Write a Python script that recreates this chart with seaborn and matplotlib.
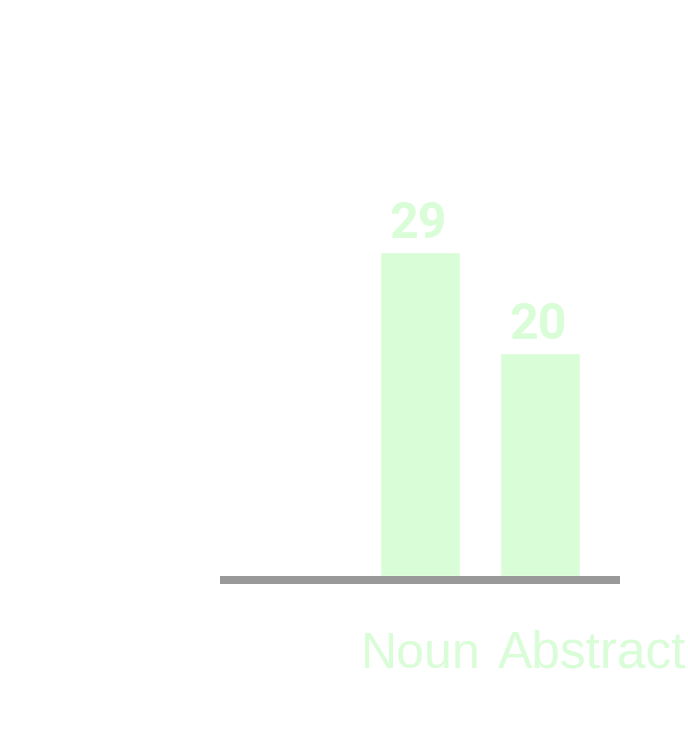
import matplotlib
matplotlib.use('Agg')

import matplotlib.pyplot as plt
import pandas as pd
import seaborn as sns

sns.set_style("white")

# data

categories = ["Noun", "Abstract"]
counts = [29, 20]

bar_color = "#d9fdd7"
line_color = "#999999"

df = pd.DataFrame({"category": categories, "count": counts})

# figure: 688x756 px

fig = plt.figure(figsize=(6.88, 7.56), dpi=100)
ax = fig.add_axes([220 / 688, 180 / 756, 400 / 688, 444 / 756])

sns.barplot(data=df, x="category", y="count", color=bar_color,
            width=2 / 3, saturation=1, ax=ax)

ax.set_xlim(-5 / 3, 5 / 3)
ax.set_ylim(0, 39.8)
ax.set_xlabel("")
ax.set_ylabel("")
ax.set_xticks([])
ax.set_yticks([])

for side in ["top", "left", "right"]:
    ax.spines[side].set_visible(False)
ax.spines["bottom"].set_color(line_color)
ax.spines["bottom"].set_linewidth(8 * 72 / 100)
ax.spines["bottom"].set_position(("outward", 4 * 72 / 100))
ax.spines["bottom"].set_capstyle("butt")

# value labels above bars

for i, v in enumerate(counts):
    ax.annotate(str(v), xy=(i, v), xytext=(-2, 14), textcoords="offset pixels",
                ha="center", va="baseline", fontsize=36, fontweight="bold",
                family=["Roboto", "DejaVu Sans"], color=bar_color,
                annotation_clip=False)

# category labels

ax.annotate(categories[0], xy=(0, 0), xytext=(1, -92), textcoords="offset pixels",
            ha="center", va="baseline", fontsize=36,
            family=["Liberation Sans", "DejaVu Sans"], color=bar_color,
            annotation_clip=False)
ax.annotate(categories[1], xy=(1 - 1 / 3, 0), xytext=(-2, -92), textcoords="offset pixels",
            ha="left", va="baseline", fontsize=37,
            family=["Liberation Sans", "DejaVu Sans"], color=bar_color,
            annotation_clip=False)

plt.savefig("out.png", dpi=100)
